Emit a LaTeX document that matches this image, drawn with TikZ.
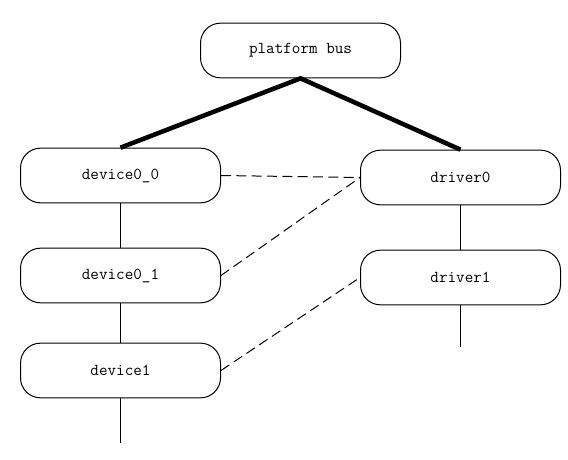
\documentclass[tikz,border=0pt]{standalone}
\tikzset{
    unit/.style = {
        draw,
        rounded corners = 15pt,
        minimum width   = 150pt,
        minimum height  = 41pt,
        line width      = 0.75pt,
        font            = \fontsize{12.5}{14}\selectfont\ttfamily,
    },
    bus link/.style   = {line width = 3.4pt},
    chain/.style      = {line width = 0.75pt},
    match link/.style = {line width = 0.75pt, dash pattern = on 7.5pt off 4pt},
}

\begin{document}
\begin{tikzpicture}[x=0.75pt, y=-0.75pt]
  % frame of the picture, in pixels of the reference
  \path[use as bounding box] (0,0) rectangle (568,460);

  \node[unit] (bus)  at (300.5,50.5)  {platform bus};
  \node[unit] (dev00) at (120.5,175.5) {device0\_0};
  \node[unit] (dev01) at (120.5,275.5) {device0\_1};
  \node[unit] (dev1)  at (120.5,370.5) {device1};
  \node[unit] (drv0)  at (460.5,177.5) {driver0};
  \node[unit] (drv1)  at (460.5,277.5) {driver1};

  \coordinate (devend) at (120.5,443);
  \coordinate (drvend) at (460.5,347);

  \draw[bus link] (dev00.north) -- (bus.south) -- (drv0.north);

  \draw[chain] (dev00) -- (dev01) (dev01) -- (dev1) (dev1) -- (devend);
  \draw[chain] (drv0) -- (drv1) (drv1) -- (drvend);

  \draw[match link] (dev00.east) -- (drv0.west);
  \draw[match link] (dev01.east) -- (drv0.west);
  \draw[match link] (dev1.east) -- (drv1.west);
\end{tikzpicture}
\end{document}
